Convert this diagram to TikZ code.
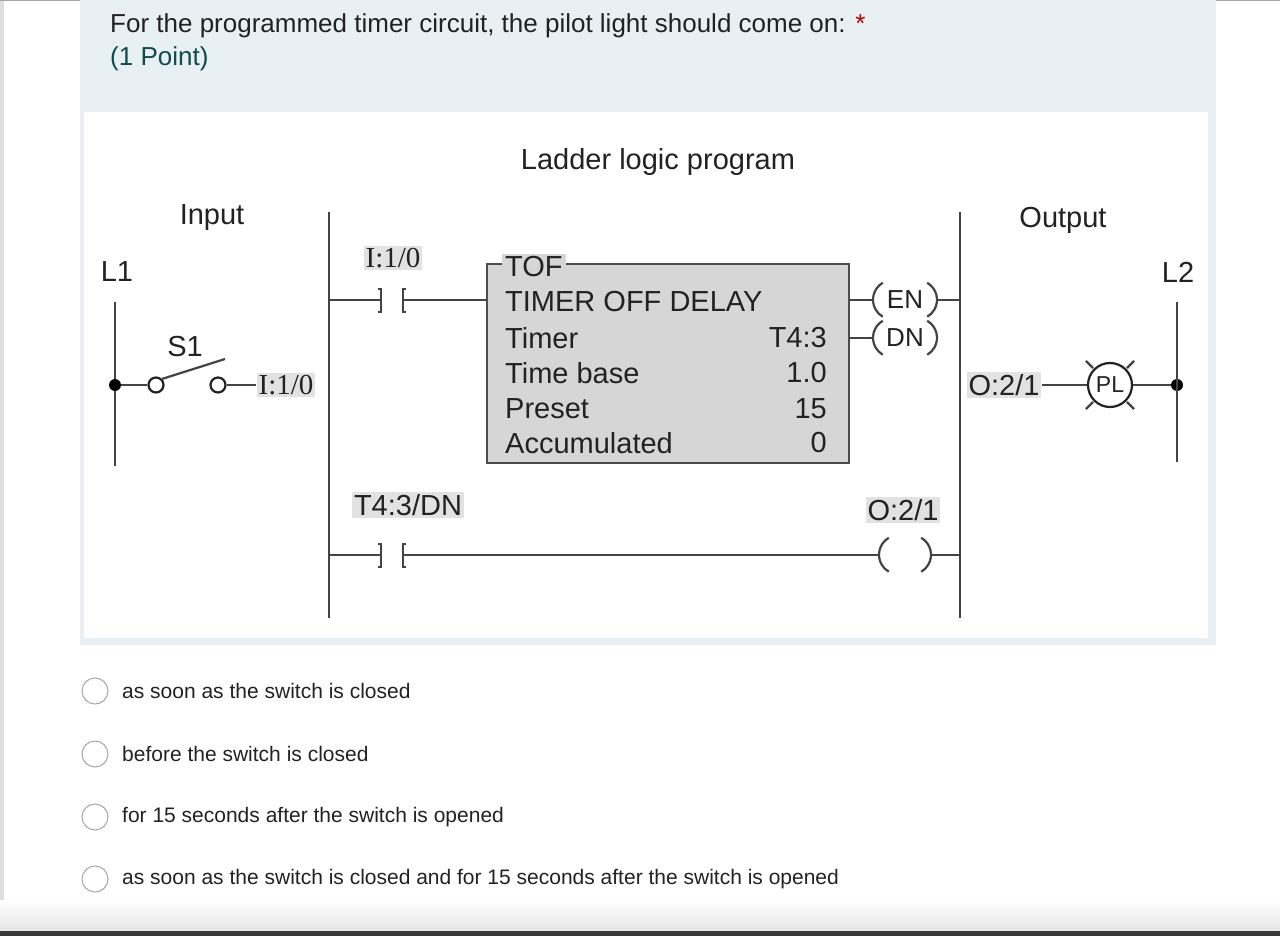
\documentclass[tikz,border=0pt]{standalone}
\usepackage{fontspec}
\usetikzlibrary{calc}
\setmainfont{Liberation Sans}
\newfontfamily\serifL{Liberation Serif}
\definecolor{panel}{HTML}{E9F0F3}
\definecolor{lbl}{HTML}{E2E2E2}
\definecolor{boxg}{HTML}{D6D6D6}
\definecolor{ink}{HTML}{222222}
\definecolor{teal}{HTML}{0F4C4C}
\tikzset{
 wire/.style={line width=2.2pt, draw=ink!85},
 tx/.style={inner sep=1pt, text=ink, font=\fontsize{29}{31}\selectfont},
 gl/.style={tx, fill=lbl, inner sep=2pt},
 opt/.style={circle, draw=gray!70, line width=1pt, minimum size=26pt, inner sep=0pt},
 opttx/.style={anchor=west, inner sep=0pt, text=ink, font=\fontsize{21}{23}\selectfont},
 dot/.style={circle, fill=black, inner sep=0pt, minimum size=12pt},
 coil/.style={tx, font=\fontsize{26}{28}\selectfont, minimum width=66pt, minimum height=34pt, inner sep=0pt}
}
\begin{document}
\begin{tikzpicture}[x=1pt,y=-1pt]
\useasboundingbox (0,0) rectangle (1280,936);
\fill[white] (0,0) rectangle (1280,936);
\fill[gray!25] (0,0) rectangle (4,936);
\draw[gray!70, line width=1pt] (0,0.5) -- (1280,0.5);
\fill[panel] (80,0) rectangle (1216,645);
\fill[white] (84,112) rectangle (1208,638);
\shade[top color=white, bottom color=gray!20] (0,900) rectangle (1280,931);
\fill[ink!90] (0,931) rectangle (1280,936);

\node[anchor=west, inner sep=0pt, text=ink, font=\fontsize{26}{28}\selectfont] (q) at (110,26) {For the programmed timer circuit, the pilot light should come on: \textcolor{red!75!black}{*}};
\node[anchor=west, inner sep=0pt, text=teal, font=\fontsize{26}{28}\selectfont] (pt) at (110,59) {(1 Point)};

\node[tx] (title) at (658,162) {Ladder logic program};
\node[tx] (inp) at (212,218) {Input};
\node[tx] (outp) at (1063,220) {Output};
\node[tx] (l1) at (117,272) {L1};
\node[tx] (l2) at (1178,272) {L2};

% L1 and switch
\coordinate (l1t) at (115,302); \coordinate (l1b) at (115,466);
\draw[wire] (l1t) -- (l1b);
\node[dot] (d1) at (115,385) {};
\node[circle, draw=ink, line width=2.2pt, minimum size=15pt, inner sep=0pt, fill=white] (c1) at (156,385) {};
\node[circle, draw=ink, line width=2.2pt, minimum size=15pt, inner sep=0pt, fill=white] (c2) at (218,385) {};
\draw[wire] (d1) -- (c1.west);
\coordinate (blade) at (225,359);
\draw[wire] (c1.north east) -- (blade);
\node[tx] (s1) at (185,347) {S1};
\node[gl, font=\serifL\fontsize{29}{31}\selectfont] (in1) at (286,385) {I:1/0};
\draw[wire] (c2.east) -- (in1.west);

% rails
\coordinate (lrt) at (329,212); \coordinate (lrb) at (329,618);
\coordinate (rrt) at (960,212); \coordinate (rrb) at (960,618);
\draw[wire] (lrt) -- (lrb);
\draw[wire] (rrt) -- (rrb);

% rung 1 contact
\coordinate (r1l) at (329,300);
\coordinate (k1a) at (381,300); \coordinate (k1b) at (403,300);
\draw[wire] (r1l) -- (k1a);
\draw[wire] (378,289) -- (381,289) -- (381,312) -- (378,312);
\draw[wire] (406,289) -- (403,289) -- (403,312) -- (406,312);
\node[gl, font=\serifL\fontsize{29}{31}\selectfont] (in2) at (393,258) {I:1/0};

% TOF box
\node[draw=gray!60!black, line width=2pt, fill=boxg, minimum width=362pt, minimum height=199pt, anchor=north west, inner sep=0pt] (box) at (486,263) {};
\draw[wire] (k1b) -- (box.west |- k1b);
\node[tx, fill=boxg, anchor=west, inner sep=3pt] (tof) at (502,267) {TOF};
\foreach \t/\y in {TIMER OFF DELAY/302,Timer/338,Time base/373,Preset/409,Accumulated/443}
  \node[tx, anchor=west] at (504,\y) {\t};
\foreach \t/\y in {T4:3/338,1.0/373,15/409,0/443}
  \node[tx, anchor=east] at (828,\y) {\t};

% EN/DN coils
\node[coil] (en) at (905,300) {EN};
\node[coil] (dn) at (905,338) {DN};
\foreach \c in {en,dn}{
  \draw[wire] ([xshift=11pt]\c.north west) arc[start angle=120,end angle=240,radius=19.6pt];
  \draw[wire] ([xshift=-11pt]\c.north east) arc[start angle=60,end angle=-60,radius=19.6pt];
}
\draw[wire] (box.east |- en) -- (en.west);
\draw[wire] (en.east) -- (rrt |- en);
\draw[wire] (box.east |- dn) -- (dn.west);

% rung 2
\coordinate (r2l) at (329,555);
\draw[wire] (r2l) -- (381,555);
\draw[wire] (378,544) -- (381,544) -- (381,567) -- (378,567);
\draw[wire] (406,544) -- (403,544) -- (403,567) -- (406,567);
\node[gl] (t4dn) at (408,505) {T4:3/DN};
\node[coil, minimum width=54pt] (oc) at (905,555) {};
\draw[wire] ([xshift=11pt]oc.north west) arc[start angle=120,end angle=240,radius=19.6pt];
\draw[wire] ([xshift=-11pt]oc.north east) arc[start angle=60,end angle=-60,radius=19.6pt];
\draw[wire] (403,555) -- (oc.west);
\draw[wire] (oc.east) -- (rrt |- oc);
\node[gl] (o21) at (903,510) {O:2/1};

% output side
\node[gl] (o22) at (1004,385) {O:2/1};
\node[circle, draw=ink, line width=2.2pt, minimum size=44pt, inner sep=0pt, tx, font=\fontsize{23}{25}\selectfont] (pl) at (1110,385) {PL};
\foreach \a in {45,135,225,315}
  \draw[wire] ($(pl.center)+(\a:24pt)$) -- ($(pl.center)+(\a:34pt)$);
\draw[wire] (o22.east) -- (pl.west);
\node[dot] (d2) at (1177,385) {};
\draw[wire] (pl.east) -- (d2);
\coordinate (l2t) at (1177,302); \coordinate (l2b) at (1177,462);
\draw[wire] (l2t) -- (l2b);

% options
\foreach \y/\t [count=\i] in {691/as soon as the switch is closed,754/before the switch is closed,817/for 15 seconds after the switch is opened,879/as soon as the switch is closed and for 15 seconds after the switch is opened}{
  \node[opt] (o\i) at (95,\y) {};
  \node[opttx] (t\i) at (122,\y) {\t};
}
\end{tikzpicture}
\end{document}
